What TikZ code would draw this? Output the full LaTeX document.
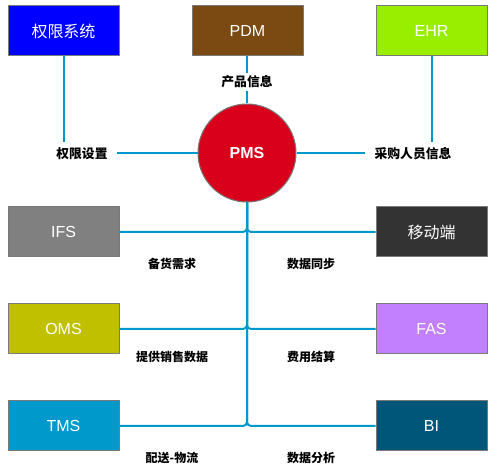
\documentclass[tikz,border=0pt]{standalone}
\usepackage{fontspec}
\setmainfont{Liberation Sans}
\newfontfamily\cjk{Noto Sans CJK SC}
\definecolor{wire}{HTML}{0099CC}
\definecolor{edge}{HTML}{797979}
\definecolor{authblue}{HTML}{0000FF}
\definecolor{pdmbrown}{HTML}{7A4A12}
\definecolor{ehrgreen}{HTML}{99EE00}
\definecolor{pmsred}{HTML}{D9001B}
\definecolor{ifsgray}{HTML}{808080}
\definecolor{omsolive}{HTML}{C0C000}
\definecolor{tmsblue}{HTML}{0099CC}
\definecolor{mobdark}{HTML}{333333}
\definecolor{faspurple}{HTML}{C280FF}
\definecolor{biblue}{HTML}{005678}
\begin{document}
\begin{tikzpicture}[x=0.75pt,y=-0.75pt,
    sysbox/.style={draw=edge,line width=0.75pt,minimum width=83.25pt,minimum height=37.5pt,text=white,font=\fontsize{12}{14}\selectfont},
    toplabel/.style={inner xsep=7pt,inner ysep=4pt,font=\cjk\bfseries\fontsize{9.6}{11}\selectfont},
    sublabel/.style={inner sep=2pt,font=\cjk\bfseries\fontsize{9}{11}\selectfont},
    link/.style={draw=wire,line width=1.5pt}]
  \useasboundingbox (0,0) rectangle (497,470);

  % top row
  \node[sysbox,fill=authblue] (auth) at (63.5,31) {\cjk 权限系统};
  \node[sysbox,fill=pdmbrown] (pdm) at (247.5,31) {PDM};
  \node[sysbox,fill=ehrgreen] (ehr) at (431.5,31) {EHR};

  \node[circle,draw=edge,line width=0.75pt,fill=pmsred,minimum size=73.5pt,text=white,font=\bfseries\fontsize{12}{14}\selectfont] (pms) at (247,153) {PMS};

  \node[toplabel] (rights) at (82,154) {权限设置};
  \node[toplabel,inner ysep=2pt] (goods) at (247,82) {产品信息};
  \node[toplabel] (staff) at (413,154) {采购人员信息};

  \draw[link] (auth) -- (auth |- rights.north);
  \draw[link] (rights.east |- pms) -- (pms.west);
  \draw[link] (pdm.south -| pms) -- (goods);
  \draw[link] (goods) -- (pms);
  \draw[link] (ehr) -- (ehr |- staff.north);
  \draw[link] (pms.east) -- (staff.west |- pms);

  % bottom rows
  \node[sysbox,fill=ifsgray] (ifs) at (63.5,232) {IFS};
  \node[sysbox,fill=omsolive] (oms) at (63.5,329) {OMS};
  \node[sysbox,fill=tmsblue] (tms) at (63.5,426) {TMS};
  \node[sysbox,fill=mobdark] (mob) at (431.5,232) {\cjk 移动端};
  \node[sysbox,fill=faspurple] (fas) at (431.5,329) {FAS};
  \node[sysbox,fill=biblue] (bi) at (431.5,426) {BI};

  \foreach \sys in {ifs,oms,tms}
    \draw[link,rounded corners=3pt] (pms.south) |- (\sys.east);
  \foreach \sys in {mob,fas,bi}
    \draw[link,rounded corners=3pt] (pms.south) |- (\sys.west);

  \node[sublabel] (stock) at (172,264) {备货需求};
  \node[sublabel] (sync) at (311,264) {数据同步};
  \node[sublabel] (sales) at (172,357) {提供销售数据};
  \node[sublabel] (cost) at (311,357) {费用结算};
  \node[sublabel] (ship) at (172,458) {配送-物流};
  \node[sublabel] (stats) at (311,458) {数据分析};
\end{tikzpicture}
\end{document}
